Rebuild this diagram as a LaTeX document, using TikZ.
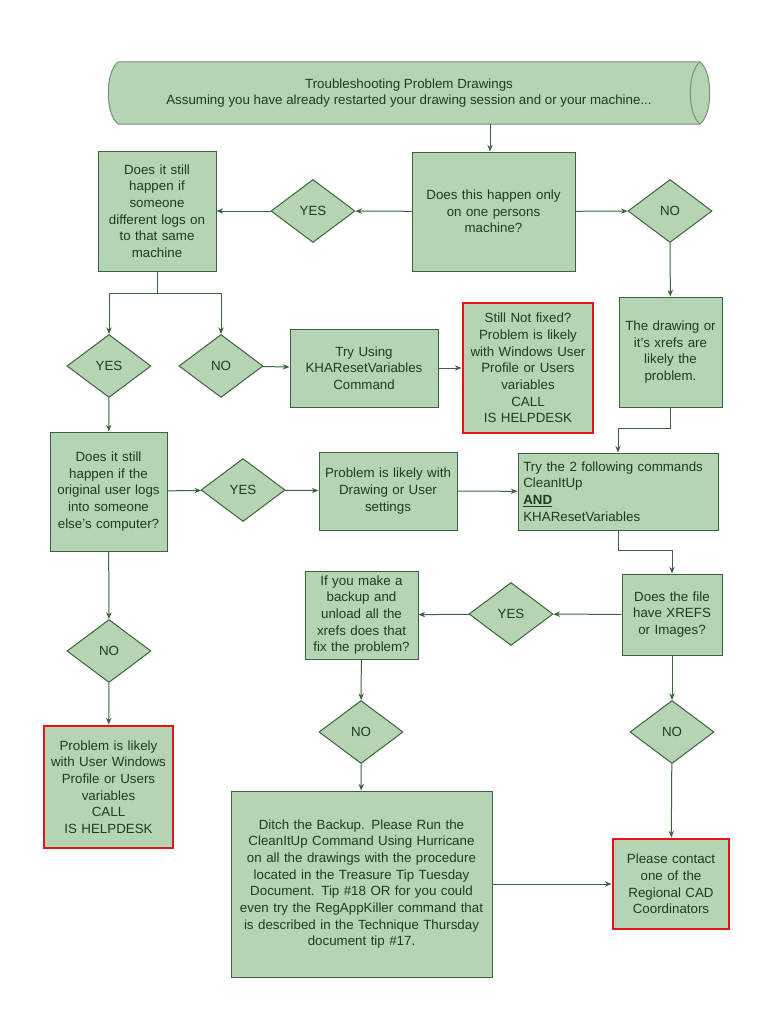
\documentclass[tikz,border=0pt]{standalone}
\usepackage{fontspec}
\setmainfont{Liberation Sans}
\usetikzlibrary{shapes.geometric,arrows.meta}
\definecolor{boxfill}{RGB}{180,212,180}
\definecolor{boxline}{RGB}{60,100,60}
\definecolor{txt}{RGB}{30,60,30}
\definecolor{alarm}{RGB}{230,20,20}
\tikzset{
  every picture/.style={line width=0.75pt},
  base/.style={draw=boxline,fill=boxfill,text=txt,font=\fontsize{10}{12.5}\selectfont,align=center,inner sep=1pt},
  box/.style={base,rectangle},
  redbox/.style={base,rectangle,draw=alarm,line width=2.2pt},
  dia/.style={base,diamond,minimum width=63pt,minimum height=47.25pt,inner sep=0pt},
  sz/.style 2 args={minimum width=#1*0.75pt,minimum height=#2*0.75pt,text width=#1*0.75pt-4pt},
  link/.style={draw=boxline,-{Stealth[length=5pt,width=4pt]}},
}
\begin{document}
\begin{tikzpicture}[x=0.75pt,y=-0.75pt]
\path[fill=white] (0,0) rectangle (768,1024);
\useasboundingbox (0,0) rectangle (768,1024);

% title cylinder, drawn directly
\draw[draw=boxline!70,fill=boxfill] (118,62) -- (700,62) .. controls (713,72) and (713,114) .. (700,124)
  -- (118,124) .. controls (105,114) and (105,72) .. (118,62) -- cycle;
\draw[draw=boxline!70] (700,62) .. controls (687,72) and (687,114) .. (700,124);
\node[text=txt,font=\fontsize{10}{12.5}\selectfont,align=center] (title) at (409,93)
  {Troubleshooting Problem Drawings\\Assuming you have already restarted your drawing session and or your machine...};
\coordinate (tbot) at (490,124);

\node[box,sz={163}{119}] (q1) at (493.5,211.5) {Does this happen only\\on one persons\\machine?};
\node[dia] (y1) at (313,211) {YES};
\node[box,sz={118}{120}] (q2) at (157,211) {Does it still\\happen if\\someone\\different logs on\\to that same\\machine};
\node[dia] (n1) at (670,211) {NO};
\node[box,sz={103}{110}] (draw) at (670.5,352) {The drawing or\\it's xrefs are\\likely the\\problem.};
\node[dia] (y2) at (109,366) {YES};
\node[dia] (n2) at (221,366) {NO};
\node[box,sz={148}{78}] (kha) at (364,368) {Try Using\\KHAResetVariables\\Command};
\node[redbox,sz={130}{130}] (still) at (528,368) {Still Not fixed?\\Problem is likely\\with Windows User\\Profile or Users\\variables\\CALL\\IS HELPDESK};
\node[box,sz={117}{119}] (q3) at (108.5,491.5) {Does it still\\happen if the\\original user logs\\into someone\\else's computer?};
\node[dia] (y3) at (243,490) {YES};
\node[box,sz={138}{78}] (prob) at (388,491) {Problem is likely with\\Drawing or User\\settings};
\node[box,minimum width=150pt,minimum height=57.75pt,text width=142pt,align=left] (try2) at (618,491.5)
  {Try the 2 following commands\\CleanItUp\\\textbf{\underline{AND}}\\KHAResetVariables};
\node[box,sz={100}{81}] (xr) at (672,614.5) {Does the file\\have XREFS\\or Images?};
\node[dia] (y4) at (511,614) {YES};
\node[box,sz={113}{88}] (bak) at (361.5,615) {If you make a\\backup and\\unload all the\\xrefs does that\\fix the problem?};
\node[dia] (n3) at (109,651) {NO};
\node[dia] (n4) at (361,732) {NO};
\node[dia] (n5) at (672,732) {NO};
\node[redbox,sz={129}{122}] (help) at (108.5,787) {Problem is likely\\with User Windows\\Profile or Users\\variables\\CALL\\IS HELPDESK};
\node[box,sz={261}{186}] (ditch) at (361.5,884) {Ditch the Backup. Please Run the\\CleanItUp Command Using Hurricane\\on all the drawings with the procedure\\located in the Treasure Tip Tuesday\\Document. Tip \#18 OR for you could\\even try the RegAppKiller command that\\is described in the Technique Thursday\\document tip \#17.};
\node[redbox,sz={116}{90}] (cad) at (671,884) {Please contact\\one of the\\Regional CAD\\Coordinators};

\draw[link] (tbot) -- (tbot |- q1.north);
\draw[link] (q1) -- (y1);
\draw[link] (y1) -- (q2);
\draw[link] (q1) -- (n1);
\draw[link] (n1) -- (draw);
\draw[link] (q2.south) -- ++(0,22) -| (y2.north);
\draw[link] (q2.south) -- ++(0,22) -| (n2.north);
\draw[link] (n2) -- (kha);
\draw[link] (kha) -- (still);
\draw[link] (y2) -- (q3);
\draw[link] (q3) -- (y3);
\draw[link] (y3) -- (prob);
\draw[link] (prob) -- (try2);
\draw[link] (draw.south) -- ++(0,21) -| (try2.north);
\draw[link] (try2.south) -- ++(0,20) -| (xr.north);
\draw[link] (xr) -- (y4);
\draw[link] (y4) -- (bak);
\draw[link] (bak) -- (n4);
\draw[link] (n4) -- (ditch);
\draw[link] (xr) -- (n5);
\draw[link] (n5) -- (cad);
\draw[link] (ditch) -- (cad);
\draw[link] (q3) -- (n3);
\draw[link] (n3) -- (help);
\end{tikzpicture}
\end{document}
